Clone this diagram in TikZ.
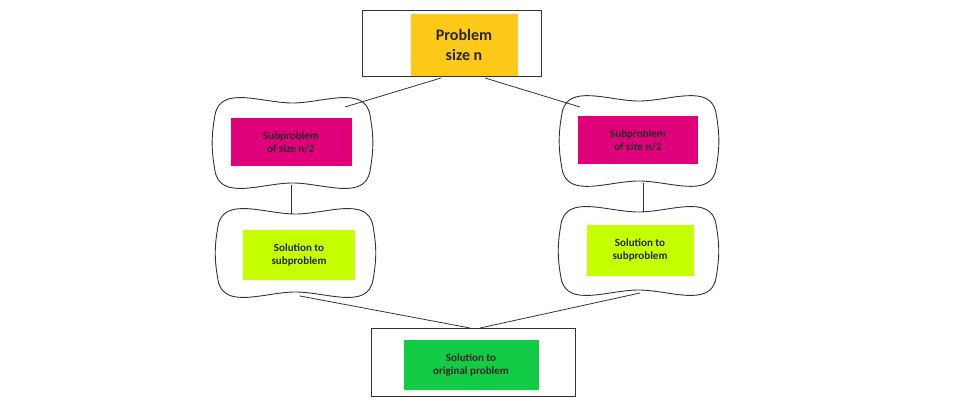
\documentclass[tikz,border=0pt]{standalone}
\usepackage{fontspec}
\setmainfont{Carlito}
\definecolor{cor}{HTML}{FFC91A}
\definecolor{cmag}{HTML}{E0007A}
\definecolor{cyel}{HTML}{C6FF00}
\definecolor{cgrn}{HTML}{11CC44}
\tikzset{
 lbl/.style={inner sep=0pt,font=\bfseries\fontsize{11}{13}\selectfont,align=center,text=black!85},
 ln/.style={draw=black!80,line width=0.8pt},
 box/.style={draw=black!80,line width=0.9pt}
}
\newcommand{\barrelshape}[4]{%
 \pgfmathsetmacro\bmid{(#1+#3)/2}%
 \pgfmathsetmacro\btop{#2+12}%
 \pgfmathsetmacro\bbot{#4-12}%
 \draw[box] (#1,\btop) to[out=80,in=180] (\bmid,#2) to[out=0,in=100] (#3,\btop)
  to[out=-80,in=80] (#3,\bbot) to[out=-100,in=0] (\bmid,#4) to[out=180,in=-80] (#1,\bbot)
  to[out=100,in=-100] cycle;}
\begin{document}
\begin{tikzpicture}[x=1pt,y=-1pt]
\useasboundingbox (0,0) rectangle (973,406);
% top
\draw[box] (362,10) rectangle (541,76);
\fill[cor] (411,14) rectangle (518,76);
\node[lbl,font=\bfseries\fontsize{16}{20}\selectfont] (top) at (464,45) {Problem\\size n};
% cylinders
\barrelshape{215}{103}{370}{183}
\barrelshape{562}{101}{716}{181}
\barrelshape{218}{214}{373}{292}
\barrelshape{561}{212}{716}{290}
\fill[cmag] (231,118) rectangle (352,166);
\node[lbl] (l1) at (291,142) {Subproblem\\of size n/2};
\fill[cmag] (578,116) rectangle (698,164);
\node[lbl] (r1) at (638,140) {Subproblem\\of size n/2};
\fill[cyel] (243,230) rectangle (355,280);
\node[lbl] (l2) at (299,255) {Solution to\\subproblem};
\fill[cyel] (587,225) rectangle (694,276);
\node[lbl] (r2) at (640,250) {Solution to\\subproblem};
% bottom
\draw[box] (371,328) rectangle (575,396);
\fill[cgrn] (404,340) rectangle (539,390);
\node[lbl] (bot) at (471,365) {Solution to\\original problem};
% connectors
\coordinate (a1) at (441,78); \coordinate (a2) at (345,107);
\coordinate (b1) at (485,78); \coordinate (b2) at (580,107);
\coordinate (c1) at (291,185); \coordinate (c2) at (291,214);
\coordinate (d1) at (643,183); \coordinate (d2) at (643,212);
\coordinate (e1) at (300,296); \coordinate (e2) at (470,328);
\coordinate (f1) at (640,293); \coordinate (f2) at (480,328);
\draw[ln] (a1) -- (a2);
\draw[ln] (b1) -- (b2);
\draw[ln] (c1) -- (c2);
\draw[ln] (d1) -- (d2);
\draw[ln] (e1) -- (e2);
\draw[ln] (f1) -- (f2);
\end{tikzpicture}
\end{document}
